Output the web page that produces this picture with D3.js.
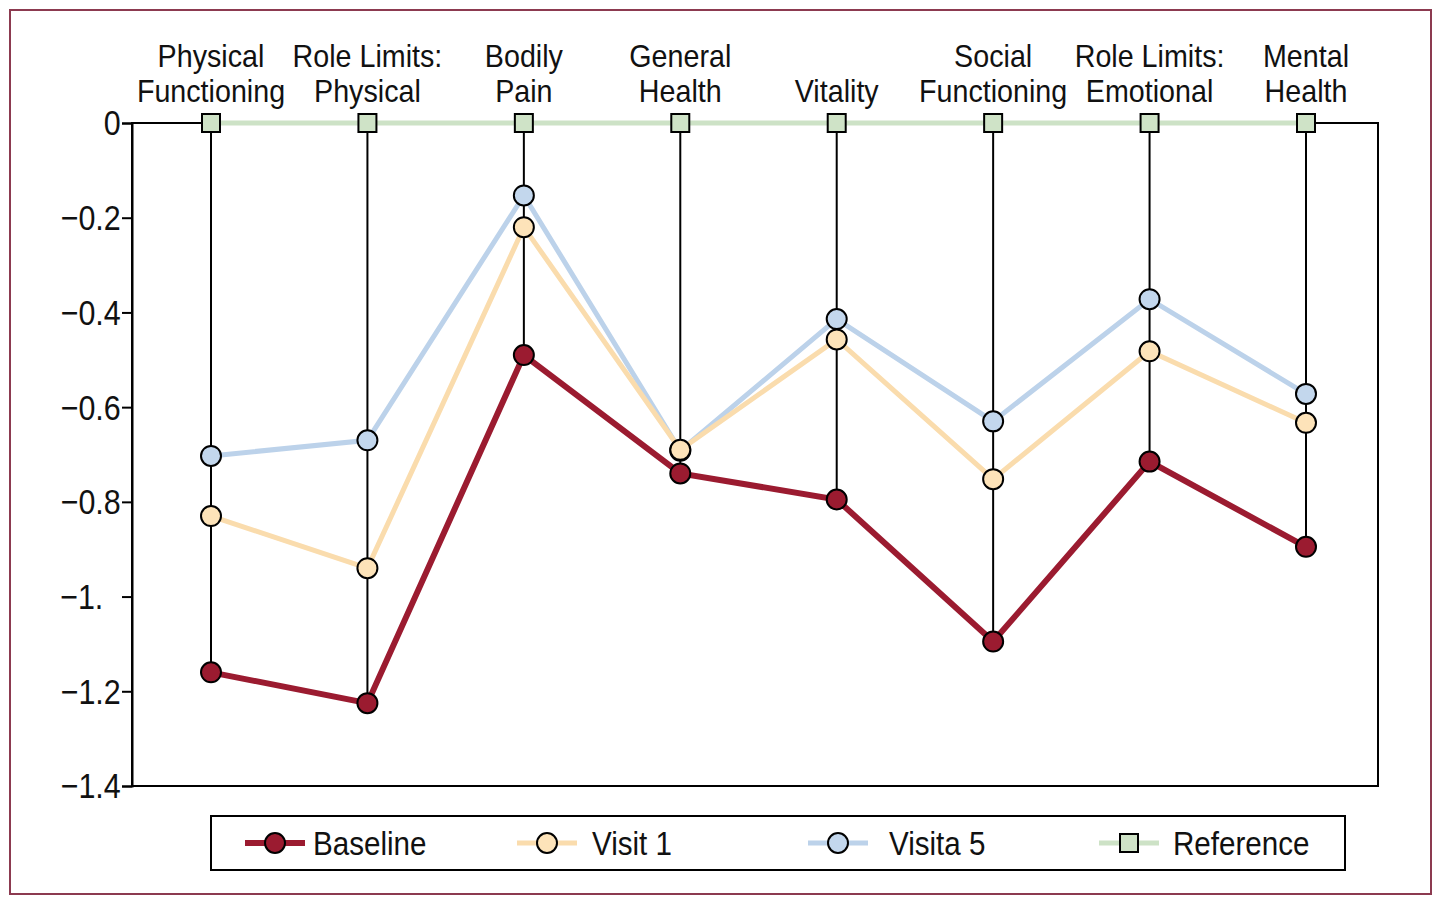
<!DOCTYPE html>
<html>
<head>
<meta charset="utf-8">
<script src="https://cdn.jsdelivr.net/npm/d3@7"></script>
<style>
  body { margin: 0; background: #fff; }
  svg { display: block; }
  text { font-family: "Liberation Sans", Arial, sans-serif; fill: #111; }
</style>
</head>
<body>
<svg id="chart" width="1450" height="912"></svg>
<script>
// categories (line breaks as in the picture)
const categories = [
  "Physical\nFunctioning", "Role Limits:\nPhysical", "Bodily\nPain", "General\nHealth",
  "\nVitality", "Social\nFunctioning", "Role Limits:\nEmotional", "Mental\nHealth"
];
const baseline = [-1.16, -1.225, -0.49, -0.74, -0.795, -1.095, -0.715, -0.895];
const visit1   = [-0.83, -0.94, -0.22, -0.69, -0.457, -0.752, -0.482, -0.633];
const visit5   = [-0.703, -0.67, -0.153, -0.692, -0.414, -0.63, -0.372, -0.572];
const reference = [0, 0, 0, 0, 0, 0, 0, 0];
const yTicks = [0, -0.2, -0.4, -0.6, -0.8, -1.0, -1.2, -1.4];
const yTickLabels = ["0", "\u22120.2", "\u22120.4", "\u22120.6", "\u22120.8", "\u22121.", "\u22121.2", "\u22121.4"];
const seriesNames = ["Baseline", "Visit 1", "Visita 5", "Reference"];

const svg = d3.select("#chart");
const sx = 0.87; // condensed look

const plot = {left: 132, right: 1378, top: 123, bottom: 786};

let x = d3.scalePoint()
  .domain(categories)
  .range([211, 1306]);
let y = d3.scaleLinear()
  .domain([-1.4, 0])
  .range([plot.bottom, plot.top]);

// outer frame
svg.append("rect")
  .attr("x", 10).attr("y", 10)
  .attr("width", 1421).attr("height", 884)
  .attr("fill", "none")
  .attr("stroke", "#8c3a50")
  .attr("stroke-width", 2);

// plot frame
svg.append("rect")
  .attr("x", plot.left).attr("y", plot.top)
  .attr("width", plot.right - plot.left).attr("height", plot.bottom - plot.top)
  .attr("fill", "none")
  .attr("stroke", "#000")
  .attr("stroke-width", 2);

// y axis
let yAxis = d3.axisLeft(y)
  .tickValues(yTicks)
  .tickSize(10)
  .tickPadding(3)
  .tickFormat((d, i) => yTickLabels[i]);

let gy = svg.append("g")
  .attr("transform", "translate(" + plot.left + ",0)")
  .call(yAxis);
gy.select(".domain").attr("stroke-width", 2);
gy.selectAll(".tick line").attr("stroke-width", 2);
gy.selectAll(".tick text")
  .attr("font-size", 35)
  .attr("font-family", null)
  .attr("fill", "#111")
  .attr("dy", "0.34em")
  .attr("transform", "scale(" + sx + ",1)")
  .attr("dx", function () {
    // "−1." keeps the slot of its missing last digit
    let t = d3.select(this).text();
    return t.endsWith(".") ? -20 : 0;
  });

// category labels, one text per category with a tspan per line
let catG = svg.append("g");
categories.forEach(c => {
  let lines = c.split("\n");
  let t = catG.append("text")
    .attr("text-anchor", "middle")
    .attr("font-size", 31)
    .attr("transform", "translate(" + x(c) + ",67) scale(0.925,1)");
  lines.forEach((ln, j) => {
    if (!ln) return;
    t.append("tspan")
      .attr("x", 0)
      .attr("y", j * 35)
      .text(ln);
  });
});

// drop lines from 0 to lowest point
svg.append("g").selectAll("line")
  .data(categories)
  .join("line")
  .attr("x1", d => x(d)).attr("x2", d => x(d))
  .attr("y1", y(0))
  .attr("y2", (d, i) => y(d3.min([baseline[i], visit1[i], visit5[i]])))
  .attr("stroke", "#000")
  .attr("stroke-width", 2);

const styles = [
  {values: baseline, line: "#9b1b30", fill: "#9b1b30", shape: "circle", width: 6},
  {values: visit1, line: "#fadcad", fill: "#fde3b9", shape: "circle", width: 5},
  {values: visit5, line: "#bcd2ea", fill: "#c3d7ed", shape: "circle", width: 5},
  {values: reference, line: "#cde2c6", fill: "#cfe3c7", shape: "square", width: 5}
];

let lineGen = d3.line()
  .x((d, i) => x(categories[i]))
  .y(d => y(d));

// draw lines back to front
[3, 2, 1, 0].forEach(k => {
  svg.append("path")
    .attr("d", lineGen(styles[k].values))
    .attr("fill", "none")
    .attr("stroke", styles[k].line)
    .attr("stroke-width", styles[k].width);
});

function marker(g, s, cx, cy) {
  if (s.shape === "circle") {
    g.append("circle")
      .attr("cx", cx).attr("cy", cy).attr("r", 10)
      .attr("fill", s.fill)
      .attr("stroke", "#000")
      .attr("stroke-width", 2);
  } else {
    g.append("rect")
      .attr("x", cx - 9).attr("y", cy - 9)
      .attr("width", 18).attr("height", 18)
      .attr("fill", s.fill)
      .attr("stroke", "#000")
      .attr("stroke-width", 2);
  }
}

let markG = svg.append("g");
[3, 2, 1, 0].forEach(k => {
  styles[k].values.forEach((v, i) => marker(markG, styles[k], x(categories[i]), y(v)));
});

// legend
const legend = {x: 211, y: 816, w: 1134, h: 54};
svg.append("rect")
  .attr("x", legend.x).attr("y", legend.y)
  .attr("width", legend.w).attr("height", legend.h)
  .attr("fill", "#fff")
  .attr("stroke", "#000")
  .attr("stroke-width", 2);

// legend slots are not evenly spaced in the original
const slotStarts = [245, 517, 808, 1099];
const textGap = [68, 75, 81, 74];
let ly = legend.y + legend.h / 2;
seriesNames.forEach((name, k) => {
  let lx = slotStarts[k];
  let g = svg.append("g");
  g.append("line")
    .attr("x1", lx).attr("x2", lx + 60)
    .attr("y1", ly).attr("y2", ly)
    .attr("stroke", styles[k].line)
    .attr("stroke-width", styles[k].width);
  marker(g, styles[k], lx + 30, ly);
  g.append("text")
    .attr("font-size", 34)
    .attr("transform", "translate(" + (lx + textGap[k]) + "," + (ly + 12) + ") scale(" + sx + ",1)")
    .text(name);
});
</script>
</body>
</html>
